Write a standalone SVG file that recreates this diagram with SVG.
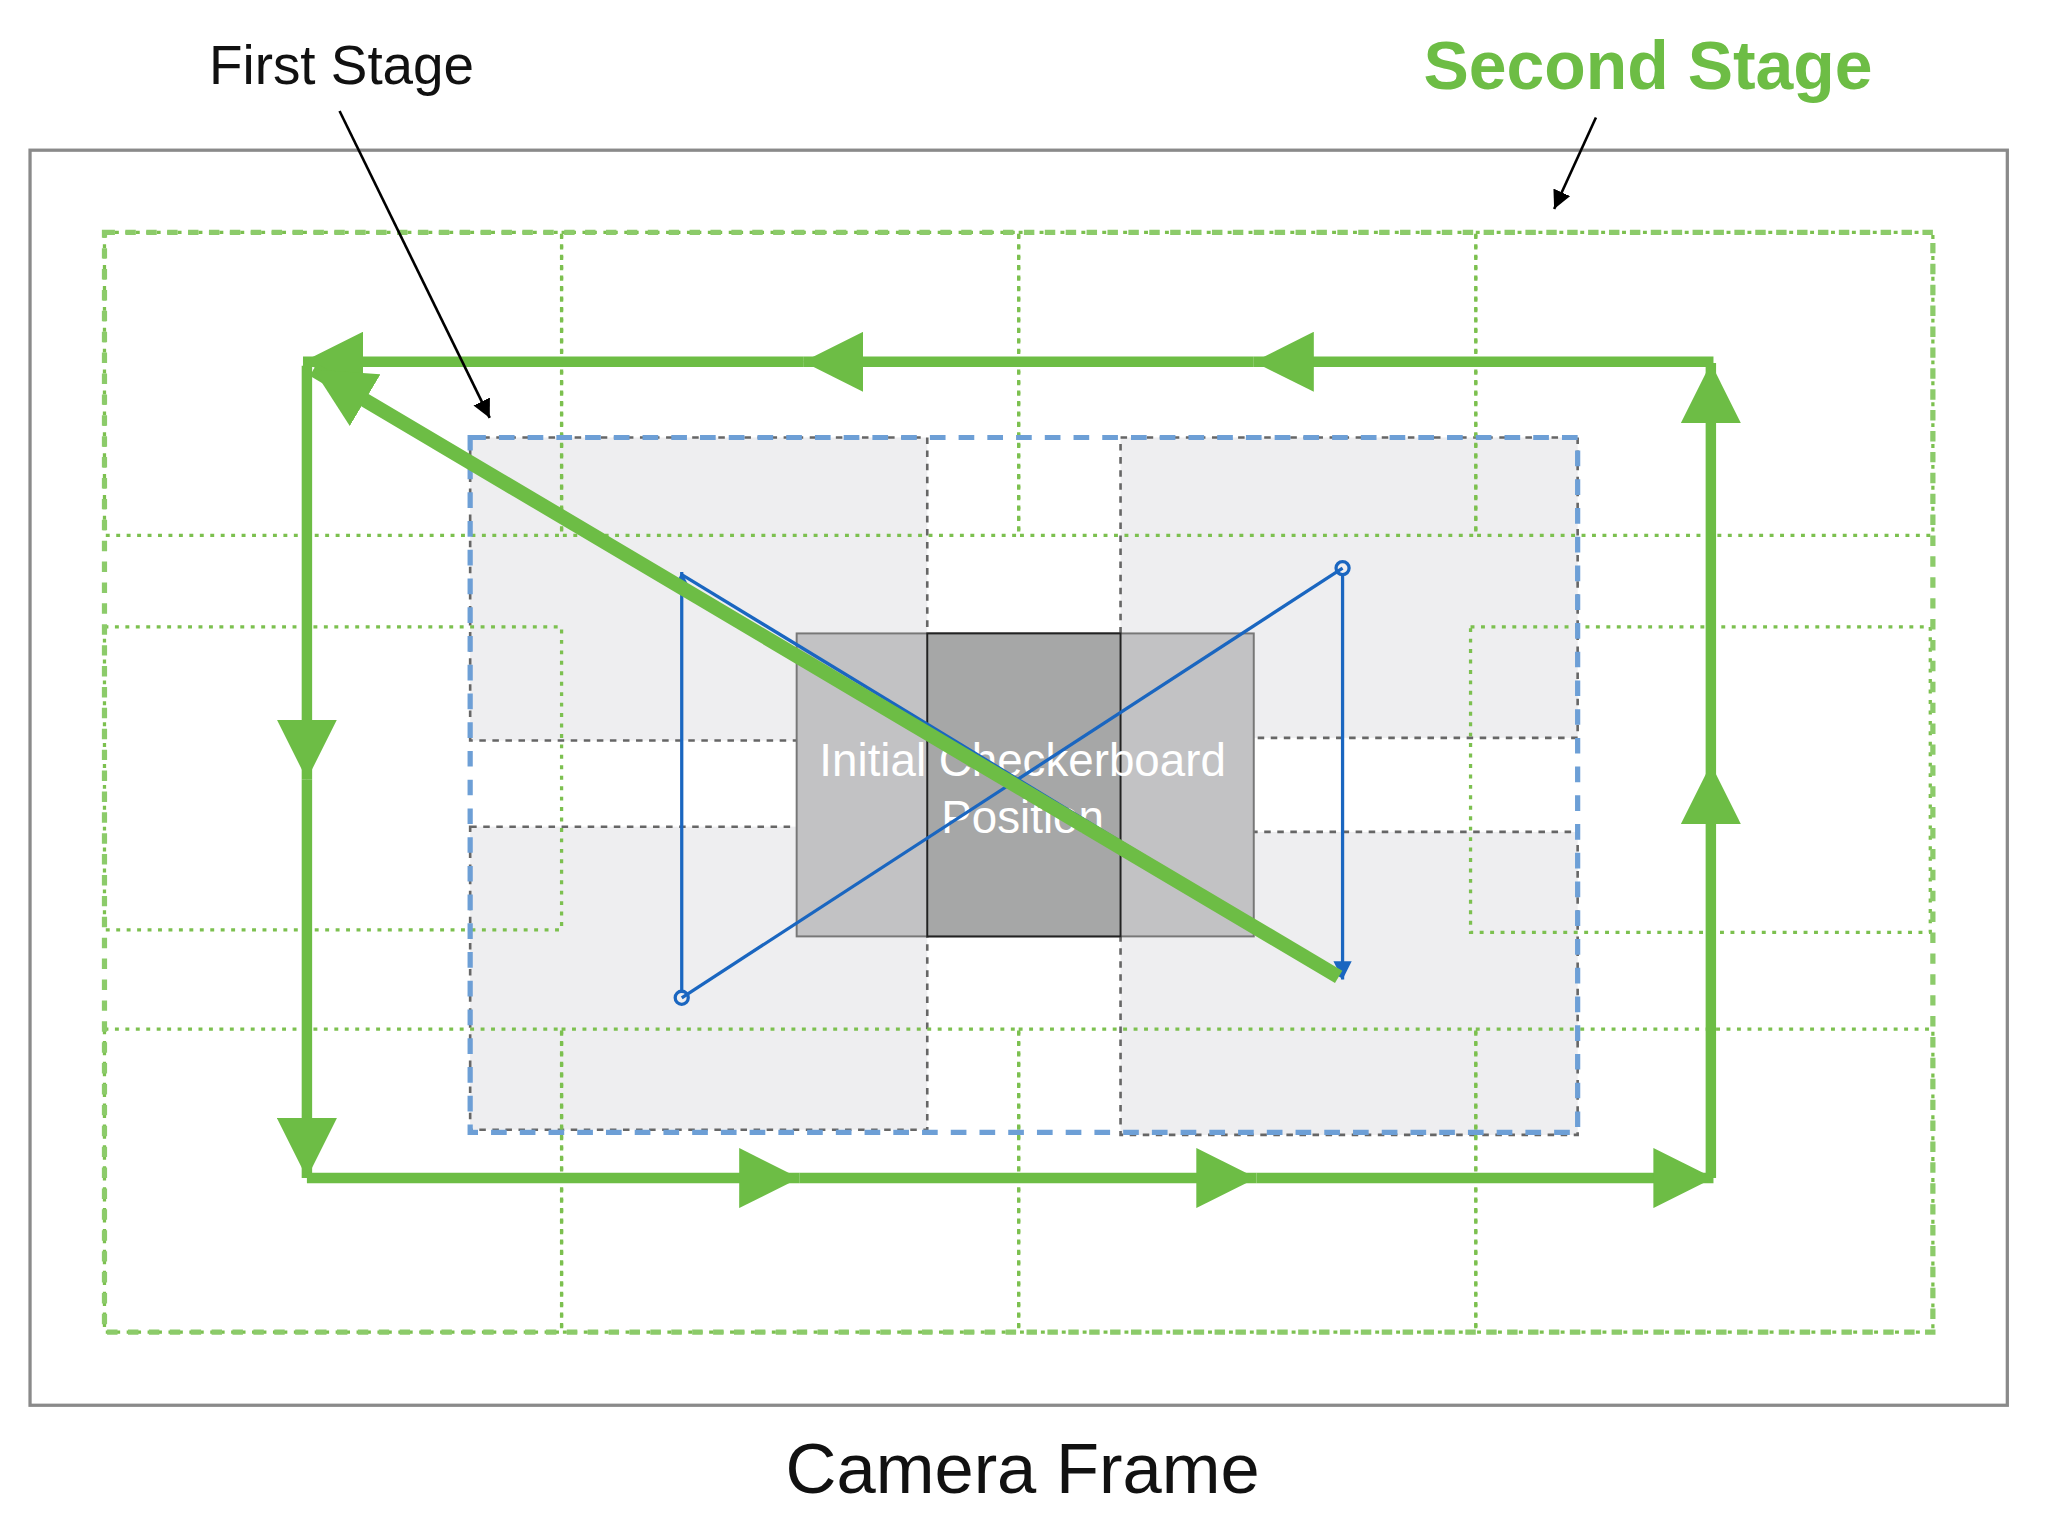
<svg xmlns="http://www.w3.org/2000/svg" width="2048" height="1536" viewBox="0 0 2048 1536">
<defs>
<style>
.tile{fill:none;stroke:#7cc04f;stroke-width:2.5;stroke-dasharray:3 5}
.gt{fill:#ececee;fill-opacity:0.9;stroke:#666;stroke-width:2;stroke-dasharray:5 5}
.g{stroke:#6dbd45;stroke-width:8;fill:none}
.b{stroke:#1a66c0;stroke-width:2.5;fill:none}
.t{font-family:"Liberation Sans",Arial,sans-serif}
</style>
<marker id="ga" viewBox="0 0 10 10" refX="10" refY="5" markerWidth="46" markerHeight="46" markerUnits="userSpaceOnUse" orient="auto"><path d="M0,0L10,5L0,10z" fill="#6dbd45"/></marker>
<marker id="ba" viewBox="0 0 10 10" refX="10" refY="5" markerWidth="14" markerHeight="14" markerUnits="userSpaceOnUse" orient="auto"><path d="M0,0L10,5L0,10z" fill="#1a66c0"/></marker>
<marker id="ka" viewBox="0 0 10 10" refX="10" refY="5" markerWidth="14" markerHeight="14" markerUnits="userSpaceOnUse" orient="auto"><path d="M0,0L10,5L0,10z" fill="#000"/></marker>
</defs>
<rect width="2048" height="1536" fill="#fff"/>
<g transform="scale(1.306)">
<g id="frame"><rect x="23" y="115" width="1514" height="961" fill="none" stroke="#8a8a8a" stroke-width="2.5"/></g>
<g id="first-stage-tiles">
<rect class="gt" x="360" y="335" width="350" height="232"/>
<rect class="gt" x="858" y="335" width="350" height="230"/>
<rect class="gt" x="360" y="633" width="350" height="232"/>
<rect class="gt" x="858" y="637" width="350" height="232"/>
</g>
<g id="second-stage">
<rect class="tile" x="80" y="178" width="350" height="232"/>
<rect class="tile" x="430" y="178" width="350" height="232"/>
<rect class="tile" x="780" y="178" width="350" height="232"/>
<rect class="tile" x="1130" y="178" width="350" height="232"/>
<rect class="tile" x="80" y="480" width="350" height="232"/>
<rect class="tile" x="1126" y="480" width="352" height="234"/>
<rect class="tile" x="80" y="788" width="350" height="232"/>
<rect class="tile" x="430" y="788" width="350" height="232"/>
<rect class="tile" x="780" y="788" width="350" height="232"/>
<rect class="tile" x="1130" y="788" width="350" height="232"/>
<rect x="80" y="178" width="1400" height="842" fill="none" stroke="#8ccb6a" stroke-width="4" stroke-dasharray="8 8"/>
</g>
<g id="first-stage">
<rect x="360" y="335" width="848" height="532" fill="none" stroke="#6d9fd6" stroke-width="4" stroke-dasharray="12 10"/>
</g>
<g id="checkerboard">
<rect x="610" y="485" width="350" height="232" fill="#c2c2c4" stroke="#777" stroke-width="1.5"/>
<rect x="710" y="485" width="148" height="232" fill="#a6a7a7" stroke="#222" stroke-width="1.5"/>
<text class="t" x="783" y="594" font-size="35" fill="#fff" text-anchor="middle">Initial Checkerboard</text>
<text class="t" x="783" y="638" font-size="35" fill="#fff" text-anchor="middle">Position</text>
</g>
<g id="connectors">
<path class="b" d="M522,758V438" marker-end="url(#ba)"/>
<path class="b" d="M522,440L1028,748"/>
<path class="b" d="M1028,441V750" marker-end="url(#ba)"/>
<path class="b" d="M522,764L1028,435"/>
<circle cx="522" cy="764" r="5" fill="#fff" class="b"/>
<circle cx="1028" cy="435" r="5" fill="#fff" class="b"/>
<path class="g" d="M235,280V597" marker-end="url(#ga)"/>
<path class="g" d="M235,597V902" marker-end="url(#ga)"/>
<path class="g" d="M235,902H612" marker-end="url(#ga)"/>
<path class="g" d="M612,902H962" marker-end="url(#ga)"/>
<path class="g" d="M962,902H1312" marker-end="url(#ga)"/>
<path class="g" d="M1310,902V585" marker-end="url(#ga)"/>
<path class="g" d="M1310,585V278" marker-end="url(#ga)"/>
<path class="g" d="M1312,277H960" marker-end="url(#ga)"/>
<path class="g" d="M960,277H615" marker-end="url(#ga)"/>
<path class="g" d="M615,277H232" marker-end="url(#ga)"/>
<path class="g" style="stroke-width:11" d="M1025,748L240,283" marker-end="url(#ga)"/>
<path d="M260,85L375,320" stroke="#000" stroke-width="2" marker-end="url(#ka)"/>
<path d="M1222,90L1190,160" stroke="#000" stroke-width="2" marker-end="url(#ka)"/>
</g>
<g id="labels">
<text class="t" x="160" y="64" font-size="42" fill="#111">First Stage</text>
<text class="t" x="1090" y="68" font-size="52" font-weight="bold" fill="#6dbd45">Second Stage</text>
<text class="t" x="783" y="1143" font-size="54" fill="#111" text-anchor="middle">Camera Frame</text>
</g>
</g>
</svg>
